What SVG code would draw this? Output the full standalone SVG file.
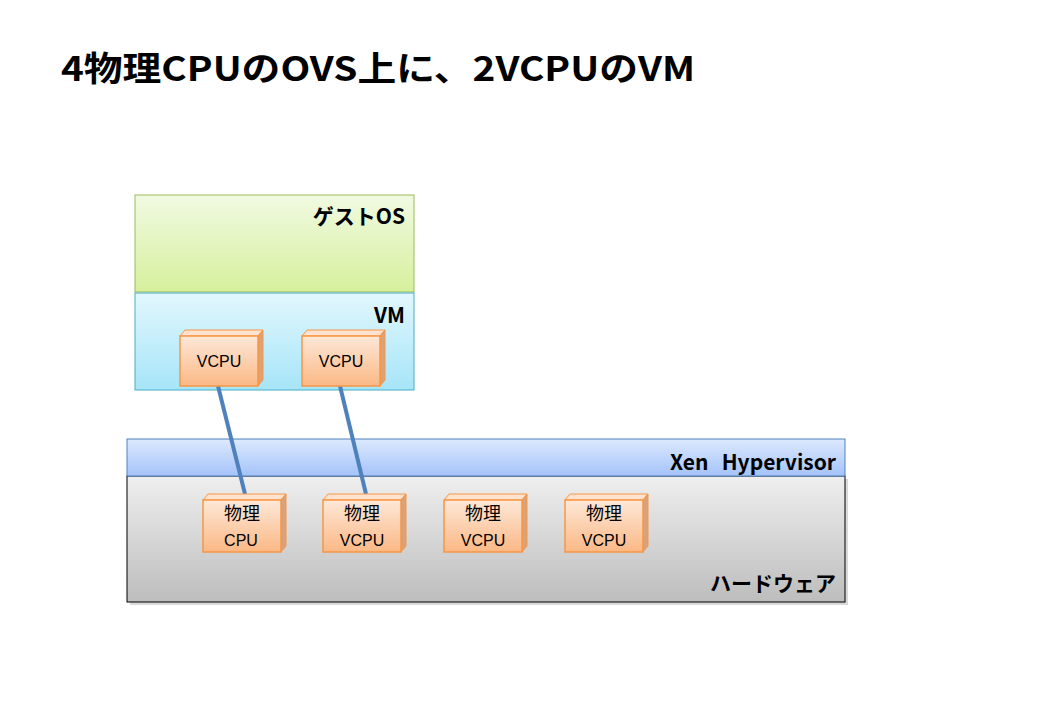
<svg xmlns="http://www.w3.org/2000/svg" width="1040" height="720" viewBox="0 0 1040 720">
<style>
.t{font-family:"Noto Sans CJK JP","Liberation Sans",sans-serif;fill:#000}
.b{font-weight:bold}
.c{font-family:"Liberation Sans","Noto Sans CJK JP",sans-serif;font-size:16px;text-anchor:middle;fill:#000}
.j{font-family:"Noto Sans CJK JP",sans-serif;font-size:18px;text-anchor:middle;fill:#000}
.front{fill:url(#gO);stroke:#f79646;stroke-width:1.5}
.top{fill:#fde3cf;stroke:#f79646;stroke-width:1}
.side{fill:#d9a27a;stroke:#f79646;stroke-width:1}
.link{stroke:#4f81bd;stroke-width:4;fill:none}
</style>
<defs>
<linearGradient id="gG" x1="0" y1="0" x2="0" y2="1"><stop offset="0" stop-color="#f1fae2"/><stop offset="1" stop-color="#d6f09c"/></linearGradient>
<linearGradient id="gC" x1="0" y1="0" x2="0" y2="1"><stop offset="0" stop-color="#e2f7fd"/><stop offset="1" stop-color="#a6e5f8"/></linearGradient>
<linearGradient id="gB" x1="0" y1="0" x2="0" y2="1"><stop offset="0" stop-color="#dde9fe"/><stop offset="1" stop-color="#a4c3f9"/></linearGradient>
<linearGradient id="gH" x1="0" y1="0" x2="0" y2="1"><stop offset="0" stop-color="#efefef"/><stop offset="1" stop-color="#bdbdbd"/></linearGradient>
<linearGradient id="gO" x1="0" y1="0" x2="0" y2="1"><stop offset="0" stop-color="#fde8d8"/><stop offset="1" stop-color="#fbb885"/></linearGradient>
<g id="cube">
<polygon class="top" points="0,0 5,-6 83,-6 78,0"/>
<polygon class="side" points="78,0 83,-6 83,46 78,52"/>
<rect class="front" x="0" y="0" width="78" height="52"/>
</g>
<g id="cubeS">
<polygon class="top" points="0,0 5,-6 83,-6 78,0"/>
<polygon class="side" points="78,0 83,-6 83,44 78,50"/>
<rect class="front" x="0" y="0" width="78" height="50"/>
</g>
</defs>
<rect width="1040" height="720" fill="#fff"/>
<text class="t b" x="61" y="81" font-size="34" textLength="634" lengthAdjust="spacingAndGlyphs">4物理CPUのOVS上に、2VCPUのVM</text>

<g id="guestos">
<rect x="135" y="195" width="279" height="97" fill="url(#gG)" stroke="#9bbb59" stroke-width="1"/>
<text class="t b" x="405" y="224" font-size="21" text-anchor="end">ゲストOS</text>
</g>
<g id="vm">
<rect x="135" y="293" width="279" height="97" fill="url(#gC)" stroke="#4bacc6" stroke-width="1"/>
<text class="t b" x="405" y="323" font-size="21" text-anchor="end">VM</text>
</g>
<g id="hardware">
<rect x="130" y="479" width="718" height="126" fill="#000" opacity="0.15"/>
<rect x="127" y="476" width="718" height="126" fill="url(#gH)" stroke="#000" stroke-width="1"/>
<text class="t b" x="836" y="591" font-size="21" text-anchor="end">ハードウェア</text>
</g>
<g id="hypervisor">
<rect x="127" y="439" width="718" height="37" fill="url(#gB)" stroke="#4f81bd" stroke-width="1"/>
<text class="t b" x="670" y="470" font-size="21" style="white-space:pre">Xen<tspan x="836" text-anchor="end">Hypervisor</tspan></text>
</g>

<g id="connectors">
<line class="link" x1="218" y1="386" x2="245" y2="494"/>
<line class="link" x1="340" y1="386" x2="366" y2="494"/>
</g>

<g id="vcpu1">
<use href="#cubeS" x="180" y="336"/>
<text class="c" x="219" y="367">VCPU</text>
</g>
<g id="vcpu2">
<use href="#cubeS" x="302" y="336"/>
<text class="c" x="341" y="367">VCPU</text>
</g>
<g id="pcpu1">
<use href="#cube" x="203" y="500"/>
<text class="j" x="242" y="520">物理</text>
<text class="c" x="241" y="546">CPU</text>
</g>
<g id="pcpu2">
<use href="#cube" x="323" y="500"/>
<text class="j" x="362" y="520">物理</text>
<text class="c" x="362" y="546">VCPU</text>
</g>
<g id="pcpu3">
<use href="#cube" x="444" y="500"/>
<text class="j" x="483" y="520">物理</text>
<text class="c" x="483" y="546">VCPU</text>
</g>
<g id="pcpu4">
<use href="#cube" x="565" y="500"/>
<text class="j" x="604" y="520">物理</text>
<text class="c" x="604" y="546">VCPU</text>
</g>
</svg>
